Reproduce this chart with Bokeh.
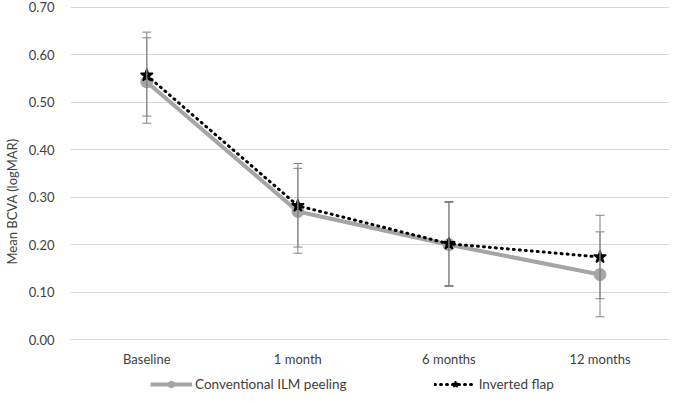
from bokeh.models import ColumnDataSource, Whisker, TeeHead, Legend, LegendItem, FixedTicker, Range1d
from bokeh.plotting import figure
from bokeh.embed import file_html
from bokeh.resources import INLINE

# donnees
timepoints = ["Baseline", "1 month", "6 months", "12 months"]
conv_mean = [0.543, 0.270, 0.200, 0.137]
conv_lower = [0.456, 0.182, 0.112, 0.048]
conv_upper = [0.636, 0.361, 0.289, 0.227]
flap_mean = [0.557, 0.282, 0.202, 0.174]
flap_lower = [0.471, 0.195, 0.114, 0.086]
flap_upper = [0.648, 0.371, 0.291, 0.262]
y_ticks = [0.0, 0.1, 0.2, 0.3, 0.4, 0.5, 0.6, 0.7]

FONT = "Lato"
TXT = "#404040"
GRID = "#d9d9d9"

x = list(range(len(timepoints)))

conv = ColumnDataSource(data=dict(x=x, y=conv_mean, lower=conv_lower, upper=conv_upper))
flap = ColumnDataSource(data=dict(x=x, y=flap_mean, lower=flap_lower, upper=flap_upper))

# le bas du cadre (sous 0) sert aux etiquettes et a la legende
p = figure(
    width=669, height=396,
    x_range=Range1d(-0.505, 3.46), y_range=Range1d(-0.120, 0.702),
    output_backend="svg", toolbar_location=None, tools="",
    min_border_left=64, min_border_right=0, min_border_top=6, min_border_bottom=0,
)
p.outline_line_color = None
p.background_fill_color = "white"

########## barres d'erreur ##########
for src in (conv, flap):
    w = Whisker(
        base="x", lower="lower", upper="upper", source=src,
        line_color="#808080", line_width=1,
        upper_head=TeeHead(size=9, line_color="#808080", line_width=1),
        lower_head=TeeHead(size=9, line_color="#808080", line_width=1),
    )
    w.level = "glyph"
    p.add_layout(w)

########## series ##########
r_conv_line = p.line("x", "y", source=conv, line_color="#a5a5a5", line_width=4)
r_conv_pts = p.scatter("x", "y", source=conv, marker="circle", size=12,
                       fill_color="#a5a5a5", line_color="#a5a5a5")
r_flap_line = p.line("x", "y", source=flap, line_color="black", line_width=3,
                     line_dash="1 5", line_cap="round")
r_flap_pts = p.scatter("x", "y", source=flap, marker="star", size=13,
                       fill_color="black", line_color="black", line_width=1.5)

########## axes ##########
p.yaxis.ticker = FixedTicker(ticks=y_ticks)
p.yaxis.major_label_overrides = {t: "%.2f" % t for t in y_ticks}
p.yaxis.axis_label = "Mean BCVA (logMAR)"
p.yaxis.axis_label_text_font = FONT
p.yaxis.axis_label_text_font_style = "normal"
p.yaxis.axis_label_text_font_size = "13px"
p.yaxis.axis_label_text_color = TXT
p.yaxis.axis_label_standoff = 6
p.yaxis.axis_line_color = None
p.yaxis.major_tick_line_color = None
p.yaxis.minor_tick_line_color = None
p.yaxis.major_label_standoff = 10

p.xaxis.ticker = FixedTicker(ticks=x)
p.xaxis.fixed_location = 0
p.xaxis.major_label_overrides = {i: t for i, t in enumerate(timepoints)}
p.xaxis.axis_line_color = GRID
p.xaxis.major_tick_line_color = None
p.xaxis.minor_tick_line_color = None
p.xaxis.major_label_standoff = 5

for ax in (p.xaxis, p.yaxis):
    ax.major_label_text_font = FONT
    ax.major_label_text_font_size = "13px"
    ax.major_label_text_color = TXT

p.xgrid.grid_line_color = None
p.ygrid.grid_line_color = GRID
p.ygrid.grid_line_width = 1

########## legende ##########
legend = Legend(
    items=[
        LegendItem(label="Conventional ILM peeling", renderers=[r_conv_line, r_conv_pts]),
        LegendItem(label="Inverted flap", renderers=[r_flap_line, r_flap_pts]),
    ],
    orientation="horizontal", location=(80, 4),
    border_line_color=None, background_fill_alpha=0,
    label_text_font=FONT, label_text_font_size="13.5px", label_text_color=TXT,
    glyph_width=42, glyph_height=16, label_height=16, label_standoff=3,
    spacing=87, padding=0, margin=0,
)
p.add_layout(legend)

open("out.html", "w").write(file_html(p, INLINE))
